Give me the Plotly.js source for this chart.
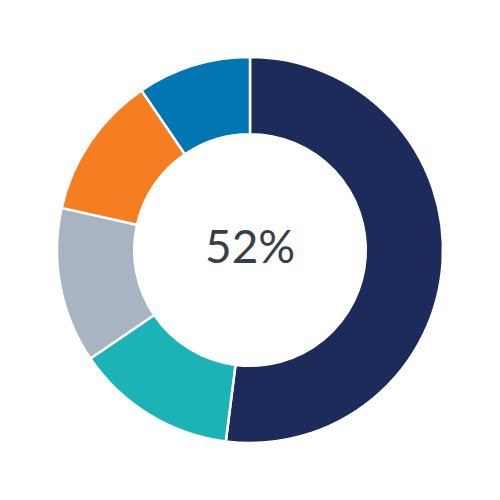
<!DOCTYPE html>
<html>
<head>
<meta charset="utf-8">
<script src="https://cdn.plot.ly/plotly-3.0.1.min.js"></script>
<style>html,body{margin:0;padding:0;background:#fff;}#chart{width:500px;height:500px;}</style>
</head>
<body>
<div id="chart"></div>
<script>
const labels = ["A", "B", "C", "D", "E"];
const values = [52, 13.5, 13, 12, 9.5];
const colors = ["#1d2b5b", "#1bb3b5", "#a9b4c2", "#f47e20", "#0276b3"];
const centerText = "52%";

Plotly.newPlot("chart", [{
  type: "pie",
  labels: labels,
  values: values,
  hole: 0.6,
  sort: false,
  direction: "clockwise",
  rotation: 0,
  textinfo: "none",
  hoverinfo: "none",
  marker: { colors: colors, line: { color: "#ffffff", width: 2.5 } }
}], {
  width: 500, height: 500,
  margin: { l: 57, r: 57, t: 57, b: 57 },
  showlegend: false,
  paper_bgcolor: "#ffffff",
  annotations: [{
    text: centerText, showarrow: false, x: 0.5, y: 0.5, xref: "paper", yref: "paper",
    yshift: 5,
    font: { family: "Lato, 'Open Sans', sans-serif", size: 46, color: "#3a3f45" }
  }]
}, { staticPlot: true });
</script>
</body>
</html>
